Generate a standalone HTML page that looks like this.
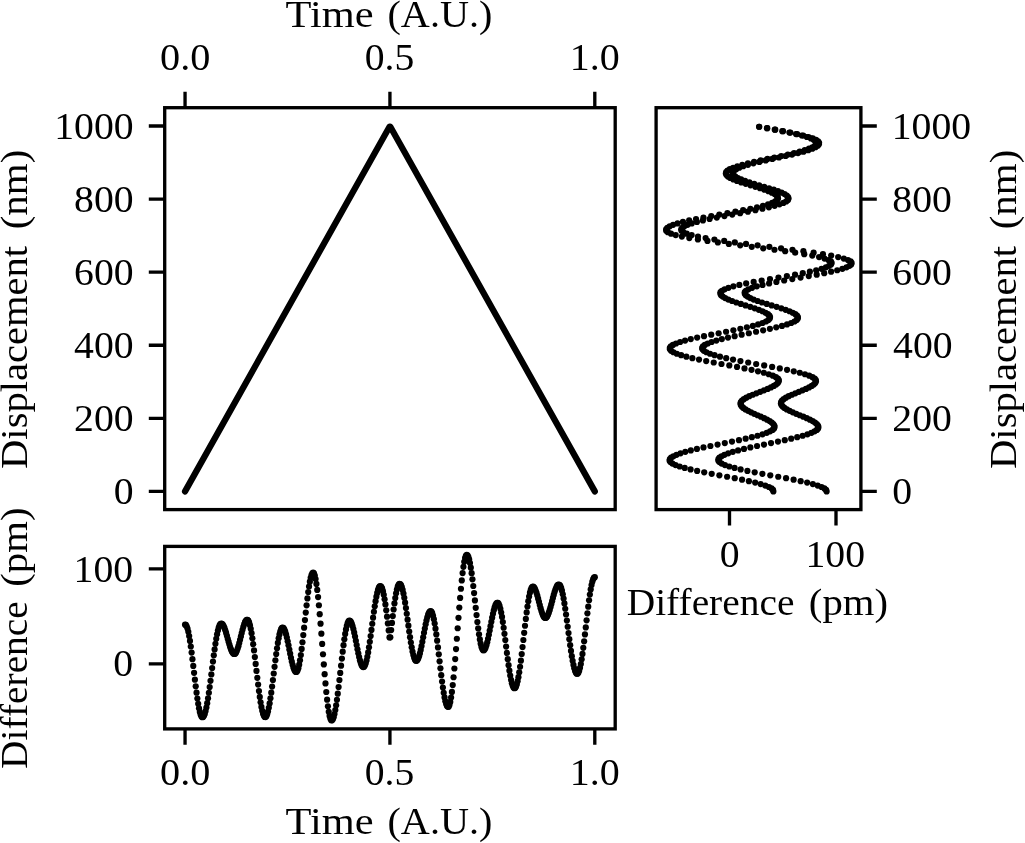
<!DOCTYPE html>
<html><head><meta charset="utf-8"><title>Displacement and difference plots</title>
<style>html,body{margin:0;padding:0;background:#fff}svg{display:block}</style></head>
<body>
<svg width="1025" height="843" viewBox="0 0 1025 843">
<rect width="1025" height="843" fill="#fff"/>
<polyline points="185.05,491.40 389.51,126.73 390.34,126.73 594.80,491.40" fill="none" stroke="#000" stroke-width="6.25" stroke-linejoin="round" stroke-linecap="round"/>
<g fill="#000"><circle cx="185.05" cy="624.67" r="3.1"/><circle cx="185.87" cy="624.96" r="3.1"/><circle cx="186.69" cy="626.28" r="3.1"/><circle cx="187.51" cy="628.60" r="3.1"/><circle cx="188.33" cy="631.86" r="3.1"/><circle cx="189.16" cy="635.99" r="3.1"/><circle cx="189.98" cy="640.90" r="3.1"/><circle cx="190.80" cy="646.48" r="3.1"/><circle cx="191.62" cy="652.60" r="3.1"/><circle cx="192.44" cy="659.13" r="3.1"/><circle cx="193.26" cy="665.92" r="3.1"/><circle cx="194.08" cy="672.83" r="3.1"/><circle cx="194.90" cy="679.69" r="3.1"/><circle cx="195.72" cy="686.35" r="3.1"/><circle cx="196.55" cy="692.68" r="3.1"/><circle cx="197.37" cy="698.52" r="3.1"/><circle cx="198.19" cy="703.75" r="3.1"/><circle cx="199.01" cy="708.25" r="3.1"/><circle cx="199.83" cy="711.92" r="3.1"/><circle cx="200.65" cy="714.68" r="3.1"/><circle cx="201.47" cy="716.46" r="3.1"/><circle cx="202.29" cy="717.22" r="3.1"/><circle cx="203.12" cy="716.99" r="3.1"/><circle cx="203.94" cy="715.86" r="3.1"/><circle cx="204.76" cy="713.88" r="3.1"/><circle cx="205.58" cy="711.07" r="3.1"/><circle cx="206.40" cy="707.49" r="3.1"/><circle cx="207.22" cy="703.21" r="3.1"/><circle cx="208.04" cy="698.30" r="3.1"/><circle cx="208.86" cy="692.87" r="3.1"/><circle cx="209.68" cy="687.00" r="3.1"/><circle cx="210.51" cy="680.82" r="3.1"/><circle cx="211.33" cy="674.45" r="3.1"/><circle cx="212.15" cy="667.99" r="3.1"/><circle cx="212.97" cy="661.59" r="3.1"/><circle cx="213.79" cy="655.35" r="3.1"/><circle cx="214.61" cy="649.40" r="3.1"/><circle cx="215.43" cy="643.84" r="3.1"/><circle cx="216.25" cy="638.80" r="3.1"/><circle cx="217.07" cy="634.36" r="3.1"/><circle cx="217.90" cy="630.60" r="3.1"/><circle cx="218.72" cy="627.60" r="3.1"/><circle cx="219.54" cy="625.41" r="3.1"/><circle cx="220.36" cy="624.07" r="3.1"/><circle cx="221.18" cy="623.61" r="3.1"/><circle cx="222.00" cy="623.86" r="3.1"/><circle cx="222.82" cy="624.70" r="3.1"/><circle cx="223.64" cy="626.09" r="3.1"/><circle cx="224.46" cy="627.97" r="3.1"/><circle cx="225.29" cy="630.28" r="3.1"/><circle cx="226.11" cy="632.91" r="3.1"/><circle cx="226.93" cy="635.76" r="3.1"/><circle cx="227.75" cy="638.74" r="3.1"/><circle cx="228.57" cy="641.72" r="3.1"/><circle cx="229.39" cy="644.59" r="3.1"/><circle cx="230.21" cy="647.23" r="3.1"/><circle cx="231.03" cy="649.54" r="3.1"/><circle cx="231.86" cy="651.45" r="3.1"/><circle cx="232.68" cy="652.86" r="3.1"/><circle cx="233.50" cy="653.72" r="3.1"/><circle cx="234.32" cy="654.00" r="3.1"/><circle cx="235.14" cy="653.65" r="3.1"/><circle cx="235.96" cy="652.64" r="3.1"/><circle cx="236.78" cy="651.01" r="3.1"/><circle cx="237.60" cy="648.82" r="3.1"/><circle cx="238.42" cy="646.14" r="3.1"/><circle cx="239.25" cy="643.10" r="3.1"/><circle cx="240.07" cy="639.81" r="3.1"/><circle cx="240.89" cy="636.40" r="3.1"/><circle cx="241.71" cy="633.01" r="3.1"/><circle cx="242.53" cy="629.78" r="3.1"/><circle cx="243.35" cy="626.82" r="3.1"/><circle cx="244.17" cy="624.27" r="3.1"/><circle cx="244.99" cy="622.22" r="3.1"/><circle cx="245.81" cy="620.75" r="3.1"/><circle cx="246.64" cy="619.92" r="3.1"/><circle cx="247.46" cy="619.79" r="3.1"/><circle cx="248.28" cy="620.60" r="3.1"/><circle cx="249.10" cy="622.39" r="3.1"/><circle cx="249.92" cy="625.13" r="3.1"/><circle cx="250.74" cy="628.76" r="3.1"/><circle cx="251.56" cy="633.21" r="3.1"/><circle cx="252.38" cy="638.37" r="3.1"/><circle cx="253.20" cy="644.16" r="3.1"/><circle cx="254.03" cy="650.44" r="3.1"/><circle cx="254.85" cy="657.09" r="3.1"/><circle cx="255.67" cy="663.97" r="3.1"/><circle cx="256.49" cy="670.95" r="3.1"/><circle cx="257.31" cy="677.87" r="3.1"/><circle cx="258.13" cy="684.59" r="3.1"/><circle cx="258.95" cy="690.99" r="3.1"/><circle cx="259.77" cy="696.93" r="3.1"/><circle cx="260.60" cy="702.28" r="3.1"/><circle cx="261.42" cy="706.93" r="3.1"/><circle cx="262.24" cy="710.80" r="3.1"/><circle cx="263.06" cy="713.79" r="3.1"/><circle cx="263.88" cy="715.85" r="3.1"/><circle cx="264.70" cy="716.94" r="3.1"/><circle cx="265.52" cy="717.03" r="3.1"/><circle cx="266.34" cy="716.13" r="3.1"/><circle cx="267.16" cy="714.27" r="3.1"/><circle cx="267.99" cy="711.49" r="3.1"/><circle cx="268.81" cy="707.86" r="3.1"/><circle cx="269.63" cy="703.44" r="3.1"/><circle cx="270.45" cy="698.33" r="3.1"/><circle cx="271.27" cy="692.66" r="3.1"/><circle cx="272.09" cy="686.54" r="3.1"/><circle cx="272.91" cy="680.10" r="3.1"/><circle cx="273.73" cy="673.50" r="3.1"/><circle cx="274.55" cy="666.86" r="3.1"/><circle cx="275.38" cy="660.35" r="3.1"/><circle cx="276.20" cy="654.11" r="3.1"/><circle cx="277.02" cy="648.27" r="3.1"/><circle cx="277.84" cy="642.95" r="3.1"/><circle cx="278.66" cy="638.29" r="3.1"/><circle cx="279.48" cy="634.38" r="3.1"/><circle cx="280.30" cy="631.30" r="3.1"/><circle cx="281.12" cy="629.12" r="3.1"/><circle cx="281.94" cy="627.89" r="3.1"/><circle cx="282.77" cy="627.63" r="3.1"/><circle cx="283.59" cy="628.20" r="3.1"/><circle cx="284.41" cy="629.55" r="3.1"/><circle cx="285.23" cy="631.62" r="3.1"/><circle cx="286.05" cy="634.35" r="3.1"/><circle cx="286.87" cy="637.62" r="3.1"/><circle cx="287.69" cy="641.33" r="3.1"/><circle cx="288.51" cy="645.34" r="3.1"/><circle cx="289.34" cy="649.51" r="3.1"/><circle cx="290.16" cy="653.69" r="3.1"/><circle cx="290.98" cy="657.73" r="3.1"/><circle cx="291.80" cy="661.49" r="3.1"/><circle cx="292.62" cy="664.83" r="3.1"/><circle cx="293.44" cy="667.64" r="3.1"/><circle cx="294.26" cy="669.81" r="3.1"/><circle cx="295.08" cy="671.26" r="3.1"/><circle cx="295.90" cy="671.95" r="3.1"/><circle cx="296.73" cy="671.79" r="3.1"/><circle cx="297.55" cy="670.53" r="3.1"/><circle cx="298.37" cy="668.15" r="3.1"/><circle cx="299.19" cy="664.71" r="3.1"/><circle cx="300.01" cy="660.29" r="3.1"/><circle cx="300.83" cy="654.99" r="3.1"/><circle cx="301.65" cy="648.93" r="3.1"/><circle cx="302.47" cy="642.26" r="3.1"/><circle cx="303.29" cy="635.12" r="3.1"/><circle cx="304.12" cy="627.68" r="3.1"/><circle cx="304.94" cy="620.12" r="3.1"/><circle cx="305.76" cy="612.61" r="3.1"/><circle cx="306.58" cy="605.33" r="3.1"/><circle cx="307.40" cy="598.44" r="3.1"/><circle cx="308.22" cy="592.11" r="3.1"/><circle cx="309.04" cy="586.48" r="3.1"/><circle cx="309.86" cy="581.68" r="3.1"/><circle cx="310.68" cy="577.82" r="3.1"/><circle cx="311.51" cy="574.99" r="3.1"/><circle cx="312.33" cy="573.26" r="3.1"/><circle cx="313.15" cy="572.67" r="3.1"/><circle cx="313.97" cy="573.38" r="3.1"/><circle cx="314.79" cy="575.53" r="3.1"/><circle cx="315.61" cy="579.05" r="3.1"/><circle cx="316.43" cy="583.89" r="3.1"/><circle cx="317.25" cy="589.95" r="3.1"/><circle cx="318.08" cy="597.11" r="3.1"/><circle cx="318.90" cy="605.23" r="3.1"/><circle cx="319.72" cy="614.15" r="3.1"/><circle cx="320.54" cy="623.71" r="3.1"/><circle cx="321.36" cy="633.70" r="3.1"/><circle cx="322.18" cy="643.95" r="3.1"/><circle cx="323.00" cy="654.24" r="3.1"/><circle cx="323.82" cy="664.39" r="3.1"/><circle cx="324.64" cy="674.19" r="3.1"/><circle cx="325.47" cy="683.45" r="3.1"/><circle cx="326.29" cy="692.00" r="3.1"/><circle cx="327.11" cy="699.66" r="3.1"/><circle cx="327.93" cy="706.29" r="3.1"/><circle cx="328.75" cy="711.76" r="3.1"/><circle cx="329.57" cy="715.96" r="3.1"/><circle cx="330.39" cy="718.81" r="3.1"/><circle cx="331.21" cy="720.25" r="3.1"/><circle cx="332.03" cy="720.29" r="3.1"/><circle cx="332.86" cy="719.23" r="3.1"/><circle cx="333.68" cy="717.15" r="3.1"/><circle cx="334.50" cy="714.09" r="3.1"/><circle cx="335.32" cy="710.12" r="3.1"/><circle cx="336.14" cy="705.33" r="3.1"/><circle cx="336.96" cy="699.80" r="3.1"/><circle cx="337.78" cy="693.66" r="3.1"/><circle cx="338.60" cy="687.03" r="3.1"/><circle cx="339.42" cy="680.06" r="3.1"/><circle cx="340.25" cy="672.89" r="3.1"/><circle cx="341.07" cy="665.66" r="3.1"/><circle cx="341.89" cy="658.54" r="3.1"/><circle cx="342.71" cy="651.66" r="3.1"/><circle cx="343.53" cy="645.18" r="3.1"/><circle cx="344.35" cy="639.23" r="3.1"/><circle cx="345.17" cy="633.94" r="3.1"/><circle cx="345.99" cy="629.41" r="3.1"/><circle cx="346.82" cy="625.74" r="3.1"/><circle cx="347.64" cy="623.00" r="3.1"/><circle cx="348.46" cy="621.26" r="3.1"/><circle cx="349.28" cy="620.54" r="3.1"/><circle cx="350.10" cy="620.77" r="3.1"/><circle cx="350.92" cy="621.78" r="3.1"/><circle cx="351.74" cy="623.55" r="3.1"/><circle cx="352.56" cy="626.00" r="3.1"/><circle cx="353.38" cy="629.07" r="3.1"/><circle cx="354.21" cy="632.63" r="3.1"/><circle cx="355.03" cy="636.57" r="3.1"/><circle cx="355.85" cy="640.76" r="3.1"/><circle cx="356.67" cy="645.05" r="3.1"/><circle cx="357.49" cy="649.30" r="3.1"/><circle cx="358.31" cy="653.36" r="3.1"/><circle cx="359.13" cy="657.09" r="3.1"/><circle cx="359.95" cy="660.38" r="3.1"/><circle cx="360.77" cy="663.10" r="3.1"/><circle cx="361.60" cy="665.16" r="3.1"/><circle cx="362.42" cy="666.49" r="3.1"/><circle cx="363.24" cy="667.04" r="3.1"/><circle cx="364.06" cy="666.77" r="3.1"/><circle cx="364.88" cy="665.58" r="3.1"/><circle cx="365.70" cy="663.49" r="3.1"/><circle cx="366.52" cy="660.54" r="3.1"/><circle cx="367.34" cy="656.81" r="3.1"/><circle cx="368.16" cy="652.38" r="3.1"/><circle cx="368.99" cy="647.36" r="3.1"/><circle cx="369.81" cy="641.85" r="3.1"/><circle cx="370.63" cy="635.99" r="3.1"/><circle cx="371.45" cy="629.91" r="3.1"/><circle cx="372.27" cy="623.75" r="3.1"/><circle cx="373.09" cy="617.66" r="3.1"/><circle cx="373.91" cy="611.77" r="3.1"/><circle cx="374.73" cy="606.23" r="3.1"/><circle cx="375.56" cy="601.16" r="3.1"/><circle cx="376.38" cy="596.67" r="3.1"/><circle cx="377.20" cy="592.88" r="3.1"/><circle cx="378.02" cy="589.86" r="3.1"/><circle cx="378.84" cy="587.69" r="3.1"/><circle cx="379.66" cy="586.42" r="3.1"/><circle cx="380.48" cy="586.07" r="3.1"/><circle cx="381.30" cy="586.74" r="3.1"/><circle cx="382.12" cy="588.44" r="3.1"/><circle cx="382.95" cy="591.14" r="3.1"/><circle cx="383.77" cy="594.76" r="3.1"/><circle cx="384.59" cy="599.24" r="3.1"/><circle cx="385.41" cy="604.47" r="3.1"/><circle cx="386.23" cy="610.34" r="3.1"/><circle cx="387.05" cy="616.71" r="3.1"/><circle cx="387.87" cy="623.44" r="3.1"/><circle cx="388.69" cy="630.39" r="3.1"/><circle cx="389.51" cy="637.39" r="3.1"/><circle cx="390.34" cy="637.30" r="3.1"/><circle cx="391.16" cy="630.10" r="3.1"/><circle cx="391.98" cy="622.97" r="3.1"/><circle cx="392.80" cy="616.04" r="3.1"/><circle cx="393.62" cy="609.48" r="3.1"/><circle cx="394.44" cy="603.43" r="3.1"/><circle cx="395.26" cy="598.01" r="3.1"/><circle cx="396.08" cy="593.34" r="3.1"/><circle cx="396.90" cy="589.52" r="3.1"/><circle cx="397.73" cy="586.63" r="3.1"/><circle cx="398.55" cy="584.74" r="3.1"/><circle cx="399.37" cy="583.88" r="3.1"/><circle cx="400.19" cy="584.04" r="3.1"/><circle cx="401.01" cy="585.12" r="3.1"/><circle cx="401.83" cy="587.10" r="3.1"/><circle cx="402.65" cy="589.93" r="3.1"/><circle cx="403.47" cy="593.53" r="3.1"/><circle cx="404.29" cy="597.82" r="3.1"/><circle cx="405.12" cy="602.71" r="3.1"/><circle cx="405.94" cy="608.06" r="3.1"/><circle cx="406.76" cy="613.76" r="3.1"/><circle cx="407.58" cy="619.66" r="3.1"/><circle cx="408.40" cy="625.63" r="3.1"/><circle cx="409.22" cy="631.52" r="3.1"/><circle cx="410.04" cy="637.19" r="3.1"/><circle cx="410.86" cy="642.50" r="3.1"/><circle cx="411.69" cy="647.34" r="3.1"/><circle cx="412.51" cy="651.58" r="3.1"/><circle cx="413.33" cy="655.12" r="3.1"/><circle cx="414.15" cy="657.87" r="3.1"/><circle cx="414.97" cy="659.77" r="3.1"/><circle cx="415.79" cy="660.77" r="3.1"/><circle cx="416.61" cy="660.86" r="3.1"/><circle cx="417.43" cy="660.11" r="3.1"/><circle cx="418.25" cy="658.59" r="3.1"/><circle cx="419.08" cy="656.34" r="3.1"/><circle cx="419.90" cy="653.43" r="3.1"/><circle cx="420.72" cy="649.96" r="3.1"/><circle cx="421.54" cy="646.03" r="3.1"/><circle cx="422.36" cy="641.78" r="3.1"/><circle cx="423.18" cy="637.34" r="3.1"/><circle cx="424.00" cy="632.86" r="3.1"/><circle cx="424.82" cy="628.48" r="3.1"/><circle cx="425.64" cy="624.35" r="3.1"/><circle cx="426.47" cy="620.60" r="3.1"/><circle cx="427.29" cy="617.34" r="3.1"/><circle cx="428.11" cy="614.70" r="3.1"/><circle cx="428.93" cy="612.74" r="3.1"/><circle cx="429.75" cy="611.53" r="3.1"/><circle cx="430.57" cy="611.12" r="3.1"/><circle cx="431.39" cy="611.65" r="3.1"/><circle cx="432.21" cy="613.20" r="3.1"/><circle cx="433.03" cy="615.74" r="3.1"/><circle cx="433.86" cy="619.22" r="3.1"/><circle cx="434.68" cy="623.56" r="3.1"/><circle cx="435.50" cy="628.67" r="3.1"/><circle cx="436.32" cy="634.43" r="3.1"/><circle cx="437.14" cy="640.72" r="3.1"/><circle cx="437.96" cy="647.40" r="3.1"/><circle cx="438.78" cy="654.33" r="3.1"/><circle cx="439.60" cy="661.37" r="3.1"/><circle cx="440.43" cy="668.35" r="3.1"/><circle cx="441.25" cy="675.14" r="3.1"/><circle cx="442.07" cy="681.57" r="3.1"/><circle cx="442.89" cy="687.52" r="3.1"/><circle cx="443.71" cy="692.86" r="3.1"/><circle cx="444.53" cy="697.46" r="3.1"/><circle cx="445.35" cy="701.24" r="3.1"/><circle cx="446.17" cy="704.10" r="3.1"/><circle cx="446.99" cy="705.99" r="3.1"/><circle cx="447.82" cy="706.87" r="3.1"/><circle cx="448.64" cy="706.64" r="3.1"/><circle cx="449.46" cy="705.01" r="3.1"/><circle cx="450.28" cy="701.97" r="3.1"/><circle cx="451.10" cy="697.58" r="3.1"/><circle cx="451.92" cy="691.92" r="3.1"/><circle cx="452.74" cy="685.10" r="3.1"/><circle cx="453.56" cy="677.25" r="3.1"/><circle cx="454.38" cy="668.51" r="3.1"/><circle cx="455.21" cy="659.06" r="3.1"/><circle cx="456.03" cy="649.07" r="3.1"/><circle cx="456.85" cy="638.73" r="3.1"/><circle cx="457.67" cy="628.24" r="3.1"/><circle cx="458.49" cy="617.81" r="3.1"/><circle cx="459.31" cy="607.62" r="3.1"/><circle cx="460.13" cy="597.88" r="3.1"/><circle cx="460.95" cy="588.76" r="3.1"/><circle cx="461.77" cy="580.45" r="3.1"/><circle cx="462.60" cy="573.10" r="3.1"/><circle cx="463.42" cy="566.85" r="3.1"/><circle cx="464.24" cy="561.82" r="3.1"/><circle cx="465.06" cy="558.11" r="3.1"/><circle cx="465.88" cy="555.77" r="3.1"/><circle cx="466.70" cy="554.87" r="3.1"/><circle cx="467.52" cy="555.27" r="3.1"/><circle cx="468.34" cy="556.81" r="3.1"/><circle cx="469.17" cy="559.45" r="3.1"/><circle cx="469.99" cy="563.12" r="3.1"/><circle cx="470.81" cy="567.72" r="3.1"/><circle cx="471.63" cy="573.17" r="3.1"/><circle cx="472.45" cy="579.31" r="3.1"/><circle cx="473.27" cy="586.01" r="3.1"/><circle cx="474.09" cy="593.10" r="3.1"/><circle cx="474.91" cy="600.42" r="3.1"/><circle cx="475.73" cy="607.79" r="3.1"/><circle cx="476.56" cy="615.03" r="3.1"/><circle cx="477.38" cy="621.98" r="3.1"/><circle cx="478.20" cy="628.47" r="3.1"/><circle cx="479.02" cy="634.34" r="3.1"/><circle cx="479.84" cy="639.45" r="3.1"/><circle cx="480.66" cy="643.67" r="3.1"/><circle cx="481.48" cy="646.92" r="3.1"/><circle cx="482.30" cy="649.11" r="3.1"/><circle cx="483.12" cy="650.18" r="3.1"/><circle cx="483.95" cy="650.15" r="3.1"/><circle cx="484.77" cy="649.27" r="3.1"/><circle cx="485.59" cy="647.63" r="3.1"/><circle cx="486.41" cy="645.27" r="3.1"/><circle cx="487.23" cy="642.27" r="3.1"/><circle cx="488.05" cy="638.74" r="3.1"/><circle cx="488.87" cy="634.79" r="3.1"/><circle cx="489.69" cy="630.56" r="3.1"/><circle cx="490.51" cy="626.19" r="3.1"/><circle cx="491.34" cy="621.83" r="3.1"/><circle cx="492.16" cy="617.63" r="3.1"/><circle cx="492.98" cy="613.73" r="3.1"/><circle cx="493.80" cy="610.26" r="3.1"/><circle cx="494.62" cy="607.35" r="3.1"/><circle cx="495.44" cy="605.09" r="3.1"/><circle cx="496.26" cy="603.55" r="3.1"/><circle cx="497.08" cy="602.78" r="3.1"/><circle cx="497.91" cy="602.86" r="3.1"/><circle cx="498.73" cy="603.90" r="3.1"/><circle cx="499.55" cy="605.88" r="3.1"/><circle cx="500.37" cy="608.77" r="3.1"/><circle cx="501.19" cy="612.49" r="3.1"/><circle cx="502.01" cy="616.97" r="3.1"/><circle cx="502.83" cy="622.09" r="3.1"/><circle cx="503.65" cy="627.74" r="3.1"/><circle cx="504.47" cy="633.80" r="3.1"/><circle cx="505.30" cy="640.12" r="3.1"/><circle cx="506.12" cy="646.56" r="3.1"/><circle cx="506.94" cy="652.97" r="3.1"/><circle cx="507.76" cy="659.22" r="3.1"/><circle cx="508.58" cy="665.15" r="3.1"/><circle cx="509.40" cy="670.63" r="3.1"/><circle cx="510.22" cy="675.55" r="3.1"/><circle cx="511.04" cy="679.78" r="3.1"/><circle cx="511.86" cy="683.22" r="3.1"/><circle cx="512.69" cy="685.81" r="3.1"/><circle cx="513.51" cy="687.48" r="3.1"/><circle cx="514.33" cy="688.18" r="3.1"/><circle cx="515.15" cy="687.91" r="3.1"/><circle cx="515.97" cy="686.63" r="3.1"/><circle cx="516.79" cy="684.38" r="3.1"/><circle cx="517.61" cy="681.19" r="3.1"/><circle cx="518.43" cy="677.14" r="3.1"/><circle cx="519.25" cy="672.29" r="3.1"/><circle cx="520.08" cy="666.75" r="3.1"/><circle cx="520.90" cy="660.63" r="3.1"/><circle cx="521.72" cy="654.04" r="3.1"/><circle cx="522.54" cy="647.12" r="3.1"/><circle cx="523.36" cy="640.01" r="3.1"/><circle cx="524.18" cy="632.84" r="3.1"/><circle cx="525.00" cy="625.77" r="3.1"/><circle cx="525.82" cy="618.93" r="3.1"/><circle cx="526.65" cy="612.46" r="3.1"/><circle cx="527.47" cy="606.49" r="3.1"/><circle cx="528.29" cy="601.13" r="3.1"/><circle cx="529.11" cy="596.49" r="3.1"/><circle cx="529.93" cy="592.67" r="3.1"/><circle cx="530.75" cy="589.74" r="3.1"/><circle cx="531.57" cy="587.76" r="3.1"/><circle cx="532.39" cy="586.76" r="3.1"/><circle cx="533.21" cy="586.70" r="3.1"/><circle cx="534.04" cy="587.34" r="3.1"/><circle cx="534.86" cy="588.62" r="3.1"/><circle cx="535.68" cy="590.48" r="3.1"/><circle cx="536.50" cy="592.84" r="3.1"/><circle cx="537.32" cy="595.60" r="3.1"/><circle cx="538.14" cy="598.65" r="3.1"/><circle cx="538.96" cy="601.85" r="3.1"/><circle cx="539.78" cy="605.07" r="3.1"/><circle cx="540.60" cy="608.17" r="3.1"/><circle cx="541.43" cy="611.02" r="3.1"/><circle cx="542.25" cy="613.50" r="3.1"/><circle cx="543.07" cy="615.51" r="3.1"/><circle cx="543.89" cy="616.95" r="3.1"/><circle cx="544.71" cy="617.77" r="3.1"/><circle cx="545.53" cy="617.92" r="3.1"/><circle cx="546.35" cy="617.45" r="3.1"/><circle cx="547.17" cy="616.40" r="3.1"/><circle cx="547.99" cy="614.80" r="3.1"/><circle cx="548.82" cy="612.71" r="3.1"/><circle cx="549.64" cy="610.20" r="3.1"/><circle cx="550.46" cy="607.37" r="3.1"/><circle cx="551.28" cy="604.31" r="3.1"/><circle cx="552.10" cy="601.14" r="3.1"/><circle cx="552.92" cy="597.97" r="3.1"/><circle cx="553.74" cy="594.93" r="3.1"/><circle cx="554.56" cy="592.10" r="3.1"/><circle cx="555.39" cy="589.61" r="3.1"/><circle cx="556.21" cy="587.54" r="3.1"/><circle cx="557.03" cy="585.96" r="3.1"/><circle cx="557.85" cy="584.93" r="3.1"/><circle cx="558.67" cy="584.49" r="3.1"/><circle cx="559.49" cy="584.76" r="3.1"/><circle cx="560.31" cy="585.90" r="3.1"/><circle cx="561.13" cy="587.90" r="3.1"/><circle cx="561.95" cy="590.71" r="3.1"/><circle cx="562.78" cy="594.28" r="3.1"/><circle cx="563.60" cy="598.53" r="3.1"/><circle cx="564.42" cy="603.39" r="3.1"/><circle cx="565.24" cy="608.75" r="3.1"/><circle cx="566.06" cy="614.51" r="3.1"/><circle cx="566.88" cy="620.56" r="3.1"/><circle cx="567.70" cy="626.77" r="3.1"/><circle cx="568.52" cy="633.04" r="3.1"/><circle cx="569.34" cy="639.22" r="3.1"/><circle cx="570.17" cy="645.21" r="3.1"/><circle cx="570.99" cy="650.89" r="3.1"/><circle cx="571.81" cy="656.13" r="3.1"/><circle cx="572.63" cy="660.85" r="3.1"/><circle cx="573.45" cy="664.94" r="3.1"/><circle cx="574.27" cy="668.33" r="3.1"/><circle cx="575.09" cy="670.95" r="3.1"/><circle cx="575.91" cy="672.74" r="3.1"/><circle cx="576.73" cy="673.68" r="3.1"/><circle cx="577.56" cy="673.72" r="3.1"/><circle cx="578.38" cy="672.77" r="3.1"/><circle cx="579.20" cy="670.79" r="3.1"/><circle cx="580.02" cy="667.85" r="3.1"/><circle cx="580.84" cy="663.99" r="3.1"/><circle cx="581.66" cy="659.30" r="3.1"/><circle cx="582.48" cy="653.88" r="3.1"/><circle cx="583.30" cy="647.84" r="3.1"/><circle cx="584.13" cy="641.33" r="3.1"/><circle cx="584.95" cy="634.47" r="3.1"/><circle cx="585.77" cy="627.42" r="3.1"/><circle cx="586.59" cy="620.33" r="3.1"/><circle cx="587.41" cy="613.34" r="3.1"/><circle cx="588.23" cy="606.63" r="3.1"/><circle cx="589.05" cy="600.31" r="3.1"/><circle cx="589.87" cy="594.55" r="3.1"/><circle cx="590.69" cy="589.45" r="3.1"/><circle cx="591.52" cy="585.12" r="3.1"/><circle cx="592.34" cy="581.67" r="3.1"/><circle cx="593.16" cy="579.16" r="3.1"/><circle cx="593.98" cy="577.65" r="3.1"/><circle cx="594.80" cy="577.17" r="3.1"/></g>
<g fill="#000"><circle cx="773.37" cy="491.40" r="3.1"/><circle cx="773.04" cy="489.94" r="3.1"/><circle cx="771.56" cy="488.47" r="3.1"/><circle cx="768.96" cy="487.01" r="3.1"/><circle cx="765.30" cy="485.54" r="3.1"/><circle cx="760.67" cy="484.08" r="3.1"/><circle cx="755.17" cy="482.61" r="3.1"/><circle cx="748.91" cy="481.15" r="3.1"/><circle cx="742.05" cy="479.68" r="3.1"/><circle cx="734.73" cy="478.22" r="3.1"/><circle cx="727.12" cy="476.75" r="3.1"/><circle cx="719.38" cy="475.29" r="3.1"/><circle cx="711.69" cy="473.83" r="3.1"/><circle cx="704.22" cy="472.36" r="3.1"/><circle cx="697.13" cy="470.90" r="3.1"/><circle cx="690.58" cy="469.43" r="3.1"/><circle cx="684.71" cy="467.97" r="3.1"/><circle cx="679.67" cy="466.50" r="3.1"/><circle cx="675.56" cy="465.04" r="3.1"/><circle cx="672.47" cy="463.57" r="3.1"/><circle cx="670.47" cy="462.11" r="3.1"/><circle cx="669.61" cy="460.64" r="3.1"/><circle cx="669.87" cy="459.18" r="3.1"/><circle cx="671.13" cy="457.72" r="3.1"/><circle cx="673.36" cy="456.25" r="3.1"/><circle cx="676.51" cy="454.79" r="3.1"/><circle cx="680.52" cy="453.32" r="3.1"/><circle cx="685.32" cy="451.86" r="3.1"/><circle cx="690.82" cy="450.39" r="3.1"/><circle cx="696.92" cy="448.93" r="3.1"/><circle cx="703.49" cy="447.46" r="3.1"/><circle cx="710.42" cy="446.00" r="3.1"/><circle cx="717.57" cy="444.54" r="3.1"/><circle cx="724.80" cy="443.07" r="3.1"/><circle cx="731.98" cy="441.61" r="3.1"/><circle cx="738.98" cy="440.14" r="3.1"/><circle cx="745.65" cy="438.68" r="3.1"/><circle cx="751.87" cy="437.21" r="3.1"/><circle cx="757.53" cy="435.75" r="3.1"/><circle cx="762.51" cy="434.28" r="3.1"/><circle cx="766.72" cy="432.82" r="3.1"/><circle cx="770.09" cy="431.35" r="3.1"/><circle cx="772.54" cy="429.89" r="3.1"/><circle cx="774.04" cy="428.43" r="3.1"/><circle cx="774.56" cy="426.96" r="3.1"/><circle cx="774.27" cy="425.50" r="3.1"/><circle cx="773.33" cy="424.03" r="3.1"/><circle cx="771.77" cy="422.57" r="3.1"/><circle cx="769.66" cy="421.10" r="3.1"/><circle cx="767.08" cy="419.64" r="3.1"/><circle cx="764.13" cy="418.17" r="3.1"/><circle cx="760.93" cy="416.71" r="3.1"/><circle cx="757.59" cy="415.24" r="3.1"/><circle cx="754.25" cy="413.78" r="3.1"/><circle cx="751.04" cy="412.32" r="3.1"/><circle cx="748.08" cy="410.85" r="3.1"/><circle cx="745.48" cy="409.39" r="3.1"/><circle cx="743.35" cy="407.92" r="3.1"/><circle cx="741.77" cy="406.46" r="3.1"/><circle cx="740.80" cy="404.99" r="3.1"/><circle cx="740.49" cy="403.53" r="3.1"/><circle cx="740.88" cy="402.06" r="3.1"/><circle cx="742.01" cy="400.60" r="3.1"/><circle cx="743.84" cy="399.13" r="3.1"/><circle cx="746.30" cy="397.67" r="3.1"/><circle cx="749.29" cy="396.21" r="3.1"/><circle cx="752.70" cy="394.74" r="3.1"/><circle cx="756.39" cy="393.28" r="3.1"/><circle cx="760.21" cy="391.81" r="3.1"/><circle cx="764.01" cy="390.35" r="3.1"/><circle cx="767.64" cy="388.88" r="3.1"/><circle cx="770.95" cy="387.42" r="3.1"/><circle cx="773.81" cy="385.95" r="3.1"/><circle cx="776.11" cy="384.49" r="3.1"/><circle cx="777.76" cy="383.02" r="3.1"/><circle cx="778.69" cy="381.56" r="3.1"/><circle cx="778.84" cy="380.10" r="3.1"/><circle cx="777.93" cy="378.63" r="3.1"/><circle cx="775.92" cy="377.17" r="3.1"/><circle cx="772.85" cy="375.70" r="3.1"/><circle cx="768.78" cy="374.24" r="3.1"/><circle cx="763.80" cy="372.77" r="3.1"/><circle cx="758.00" cy="371.31" r="3.1"/><circle cx="751.52" cy="369.84" r="3.1"/><circle cx="744.48" cy="368.38" r="3.1"/><circle cx="737.02" cy="366.92" r="3.1"/><circle cx="729.31" cy="365.45" r="3.1"/><circle cx="721.49" cy="363.99" r="3.1"/><circle cx="713.73" cy="362.52" r="3.1"/><circle cx="706.19" cy="361.06" r="3.1"/><circle cx="699.02" cy="359.59" r="3.1"/><circle cx="692.36" cy="358.13" r="3.1"/><circle cx="686.37" cy="356.66" r="3.1"/><circle cx="681.15" cy="355.20" r="3.1"/><circle cx="676.81" cy="353.73" r="3.1"/><circle cx="673.46" cy="352.27" r="3.1"/><circle cx="671.14" cy="350.81" r="3.1"/><circle cx="669.93" cy="349.34" r="3.1"/><circle cx="669.83" cy="347.88" r="3.1"/><circle cx="670.84" cy="346.41" r="3.1"/><circle cx="672.92" cy="344.95" r="3.1"/><circle cx="676.03" cy="343.48" r="3.1"/><circle cx="680.11" cy="342.02" r="3.1"/><circle cx="685.06" cy="340.55" r="3.1"/><circle cx="690.78" cy="339.09" r="3.1"/><circle cx="697.15" cy="337.62" r="3.1"/><circle cx="704.01" cy="336.16" r="3.1"/><circle cx="711.23" cy="334.70" r="3.1"/><circle cx="718.63" cy="333.23" r="3.1"/><circle cx="726.07" cy="331.77" r="3.1"/><circle cx="733.36" cy="330.30" r="3.1"/><circle cx="740.36" cy="328.84" r="3.1"/><circle cx="746.91" cy="327.37" r="3.1"/><circle cx="752.87" cy="325.91" r="3.1"/><circle cx="758.10" cy="324.44" r="3.1"/><circle cx="762.49" cy="322.98" r="3.1"/><circle cx="765.94" cy="321.51" r="3.1"/><circle cx="768.38" cy="320.05" r="3.1"/><circle cx="769.75" cy="318.59" r="3.1"/><circle cx="770.05" cy="317.12" r="3.1"/><circle cx="769.41" cy="315.66" r="3.1"/><circle cx="767.90" cy="314.19" r="3.1"/><circle cx="765.57" cy="312.73" r="3.1"/><circle cx="762.52" cy="311.26" r="3.1"/><circle cx="758.85" cy="309.80" r="3.1"/><circle cx="754.69" cy="308.33" r="3.1"/><circle cx="750.20" cy="306.87" r="3.1"/><circle cx="745.52" cy="305.40" r="3.1"/><circle cx="740.84" cy="303.94" r="3.1"/><circle cx="736.30" cy="302.48" r="3.1"/><circle cx="732.09" cy="301.01" r="3.1"/><circle cx="728.34" cy="299.55" r="3.1"/><circle cx="725.20" cy="298.08" r="3.1"/><circle cx="722.76" cy="296.62" r="3.1"/><circle cx="721.13" cy="295.15" r="3.1"/><circle cx="720.37" cy="293.69" r="3.1"/><circle cx="720.54" cy="292.22" r="3.1"/><circle cx="721.96" cy="290.76" r="3.1"/><circle cx="724.62" cy="289.29" r="3.1"/><circle cx="728.48" cy="287.83" r="3.1"/><circle cx="733.43" cy="286.37" r="3.1"/><circle cx="739.37" cy="284.90" r="3.1"/><circle cx="746.17" cy="283.44" r="3.1"/><circle cx="753.65" cy="281.97" r="3.1"/><circle cx="761.65" cy="280.51" r="3.1"/><circle cx="769.99" cy="279.04" r="3.1"/><circle cx="778.46" cy="277.58" r="3.1"/><circle cx="786.88" cy="276.11" r="3.1"/><circle cx="795.05" cy="274.65" r="3.1"/><circle cx="802.77" cy="273.19" r="3.1"/><circle cx="809.87" cy="271.72" r="3.1"/><circle cx="816.18" cy="270.26" r="3.1"/><circle cx="821.56" cy="268.79" r="3.1"/><circle cx="825.89" cy="267.33" r="3.1"/><circle cx="829.06" cy="265.86" r="3.1"/><circle cx="831.00" cy="264.40" r="3.1"/><circle cx="831.66" cy="262.93" r="3.1"/><circle cx="830.86" cy="261.47" r="3.1"/><circle cx="828.46" cy="260.00" r="3.1"/><circle cx="824.51" cy="258.54" r="3.1"/><circle cx="819.08" cy="257.08" r="3.1"/><circle cx="812.29" cy="255.61" r="3.1"/><circle cx="804.26" cy="254.15" r="3.1"/><circle cx="795.16" cy="252.68" r="3.1"/><circle cx="785.16" cy="251.22" r="3.1"/><circle cx="774.45" cy="249.75" r="3.1"/><circle cx="763.24" cy="248.29" r="3.1"/><circle cx="751.76" cy="246.82" r="3.1"/><circle cx="740.21" cy="245.36" r="3.1"/><circle cx="728.84" cy="243.89" r="3.1"/><circle cx="717.85" cy="242.43" r="3.1"/><circle cx="707.47" cy="240.97" r="3.1"/><circle cx="697.89" cy="239.50" r="3.1"/><circle cx="689.30" cy="238.04" r="3.1"/><circle cx="681.86" cy="236.57" r="3.1"/><circle cx="675.73" cy="235.11" r="3.1"/><circle cx="671.02" cy="233.64" r="3.1"/><circle cx="667.83" cy="232.18" r="3.1"/><circle cx="666.22" cy="230.71" r="3.1"/><circle cx="666.17" cy="229.25" r="3.1"/><circle cx="667.37" cy="227.78" r="3.1"/><circle cx="669.70" cy="226.32" r="3.1"/><circle cx="673.12" cy="224.86" r="3.1"/><circle cx="677.57" cy="223.39" r="3.1"/><circle cx="682.95" cy="221.93" r="3.1"/><circle cx="689.14" cy="220.46" r="3.1"/><circle cx="696.02" cy="219.00" r="3.1"/><circle cx="703.45" cy="217.53" r="3.1"/><circle cx="711.27" cy="216.07" r="3.1"/><circle cx="719.31" cy="214.60" r="3.1"/><circle cx="727.41" cy="213.14" r="3.1"/><circle cx="735.40" cy="211.67" r="3.1"/><circle cx="743.11" cy="210.21" r="3.1"/><circle cx="750.37" cy="208.75" r="3.1"/><circle cx="757.04" cy="207.28" r="3.1"/><circle cx="762.98" cy="205.82" r="3.1"/><circle cx="768.05" cy="204.35" r="3.1"/><circle cx="772.17" cy="202.89" r="3.1"/><circle cx="775.23" cy="201.42" r="3.1"/><circle cx="777.19" cy="199.96" r="3.1"/><circle cx="777.99" cy="198.49" r="3.1"/><circle cx="777.74" cy="197.03" r="3.1"/><circle cx="776.61" cy="195.57" r="3.1"/><circle cx="774.62" cy="194.10" r="3.1"/><circle cx="771.87" cy="192.64" r="3.1"/><circle cx="768.44" cy="191.17" r="3.1"/><circle cx="764.44" cy="189.71" r="3.1"/><circle cx="760.02" cy="188.24" r="3.1"/><circle cx="755.33" cy="186.78" r="3.1"/><circle cx="750.52" cy="185.31" r="3.1"/><circle cx="745.76" cy="183.85" r="3.1"/><circle cx="741.20" cy="182.38" r="3.1"/><circle cx="737.02" cy="180.92" r="3.1"/><circle cx="733.34" cy="179.46" r="3.1"/><circle cx="730.29" cy="177.99" r="3.1"/><circle cx="727.98" cy="176.53" r="3.1"/><circle cx="726.49" cy="175.06" r="3.1"/><circle cx="725.86" cy="173.60" r="3.1"/><circle cx="726.17" cy="172.13" r="3.1"/><circle cx="727.51" cy="170.67" r="3.1"/><circle cx="729.85" cy="169.20" r="3.1"/><circle cx="733.15" cy="167.74" r="3.1"/><circle cx="737.33" cy="166.27" r="3.1"/><circle cx="742.30" cy="164.81" r="3.1"/><circle cx="747.93" cy="163.35" r="3.1"/><circle cx="754.11" cy="161.88" r="3.1"/><circle cx="760.68" cy="160.42" r="3.1"/><circle cx="767.49" cy="158.95" r="3.1"/><circle cx="774.40" cy="157.49" r="3.1"/><circle cx="781.23" cy="156.02" r="3.1"/><circle cx="787.83" cy="154.56" r="3.1"/><circle cx="794.04" cy="153.09" r="3.1"/><circle cx="799.73" cy="151.63" r="3.1"/><circle cx="804.76" cy="150.16" r="3.1"/><circle cx="809.01" cy="148.70" r="3.1"/><circle cx="812.39" cy="147.24" r="3.1"/><circle cx="814.82" cy="145.77" r="3.1"/><circle cx="816.25" cy="144.31" r="3.1"/><circle cx="816.64" cy="142.84" r="3.1"/><circle cx="815.89" cy="141.38" r="3.1"/><circle cx="813.98" cy="139.91" r="3.1"/><circle cx="810.96" cy="138.45" r="3.1"/><circle cx="806.89" cy="136.98" r="3.1"/><circle cx="801.87" cy="135.52" r="3.1"/><circle cx="796.01" cy="134.05" r="3.1"/><circle cx="789.43" cy="132.59" r="3.1"/><circle cx="782.29" cy="131.13" r="3.1"/><circle cx="774.74" cy="129.66" r="3.1"/><circle cx="766.96" cy="128.20" r="3.1"/><circle cx="759.10" cy="126.73" r="3.1"/><circle cx="759.21" cy="126.73" r="3.1"/><circle cx="767.28" cy="128.20" r="3.1"/><circle cx="775.28" cy="129.66" r="3.1"/><circle cx="783.04" cy="131.13" r="3.1"/><circle cx="790.39" cy="132.59" r="3.1"/><circle cx="797.18" cy="134.05" r="3.1"/><circle cx="803.26" cy="135.52" r="3.1"/><circle cx="808.49" cy="136.98" r="3.1"/><circle cx="812.77" cy="138.45" r="3.1"/><circle cx="816.01" cy="139.91" r="3.1"/><circle cx="818.13" cy="141.38" r="3.1"/><circle cx="819.09" cy="142.84" r="3.1"/><circle cx="818.92" cy="144.31" r="3.1"/><circle cx="817.70" cy="145.77" r="3.1"/><circle cx="815.48" cy="147.24" r="3.1"/><circle cx="812.32" cy="148.70" r="3.1"/><circle cx="808.28" cy="150.16" r="3.1"/><circle cx="803.46" cy="151.63" r="3.1"/><circle cx="797.99" cy="153.09" r="3.1"/><circle cx="791.99" cy="154.56" r="3.1"/><circle cx="785.60" cy="156.02" r="3.1"/><circle cx="778.99" cy="157.49" r="3.1"/><circle cx="772.30" cy="158.95" r="3.1"/><circle cx="765.69" cy="160.42" r="3.1"/><circle cx="759.34" cy="161.88" r="3.1"/><circle cx="753.37" cy="163.35" r="3.1"/><circle cx="747.95" cy="164.81" r="3.1"/><circle cx="743.20" cy="166.27" r="3.1"/><circle cx="739.24" cy="167.74" r="3.1"/><circle cx="736.15" cy="169.20" r="3.1"/><circle cx="734.02" cy="170.67" r="3.1"/><circle cx="732.89" cy="172.13" r="3.1"/><circle cx="732.80" cy="173.60" r="3.1"/><circle cx="733.63" cy="175.06" r="3.1"/><circle cx="735.34" cy="176.53" r="3.1"/><circle cx="737.87" cy="177.99" r="3.1"/><circle cx="741.13" cy="179.46" r="3.1"/><circle cx="745.02" cy="180.92" r="3.1"/><circle cx="749.42" cy="182.38" r="3.1"/><circle cx="754.19" cy="183.85" r="3.1"/><circle cx="759.16" cy="185.31" r="3.1"/><circle cx="764.19" cy="186.78" r="3.1"/><circle cx="769.09" cy="188.24" r="3.1"/><circle cx="773.73" cy="189.71" r="3.1"/><circle cx="777.93" cy="191.17" r="3.1"/><circle cx="781.58" cy="192.64" r="3.1"/><circle cx="784.55" cy="194.10" r="3.1"/><circle cx="786.74" cy="195.57" r="3.1"/><circle cx="788.09" cy="197.03" r="3.1"/><circle cx="788.56" cy="198.49" r="3.1"/><circle cx="787.97" cy="199.96" r="3.1"/><circle cx="786.23" cy="201.42" r="3.1"/><circle cx="783.37" cy="202.89" r="3.1"/><circle cx="779.47" cy="204.35" r="3.1"/><circle cx="774.61" cy="205.82" r="3.1"/><circle cx="768.88" cy="207.28" r="3.1"/><circle cx="762.43" cy="208.75" r="3.1"/><circle cx="755.38" cy="210.21" r="3.1"/><circle cx="747.89" cy="211.67" r="3.1"/><circle cx="740.11" cy="213.14" r="3.1"/><circle cx="732.23" cy="214.60" r="3.1"/><circle cx="724.40" cy="216.07" r="3.1"/><circle cx="716.79" cy="217.53" r="3.1"/><circle cx="709.58" cy="219.00" r="3.1"/><circle cx="702.91" cy="220.46" r="3.1"/><circle cx="696.93" cy="221.93" r="3.1"/><circle cx="691.76" cy="223.39" r="3.1"/><circle cx="687.53" cy="224.86" r="3.1"/><circle cx="684.32" cy="226.32" r="3.1"/><circle cx="682.20" cy="227.78" r="3.1"/><circle cx="681.22" cy="229.25" r="3.1"/><circle cx="681.48" cy="230.71" r="3.1"/><circle cx="683.31" cy="232.18" r="3.1"/><circle cx="686.71" cy="233.64" r="3.1"/><circle cx="691.63" cy="235.11" r="3.1"/><circle cx="697.98" cy="236.57" r="3.1"/><circle cx="705.62" cy="238.04" r="3.1"/><circle cx="714.43" cy="239.50" r="3.1"/><circle cx="724.22" cy="240.97" r="3.1"/><circle cx="734.82" cy="242.43" r="3.1"/><circle cx="746.02" cy="243.89" r="3.1"/><circle cx="757.61" cy="245.36" r="3.1"/><circle cx="769.36" cy="246.82" r="3.1"/><circle cx="781.06" cy="248.29" r="3.1"/><circle cx="792.48" cy="249.75" r="3.1"/><circle cx="803.40" cy="251.22" r="3.1"/><circle cx="813.62" cy="252.68" r="3.1"/><circle cx="822.94" cy="254.15" r="3.1"/><circle cx="831.18" cy="255.61" r="3.1"/><circle cx="838.18" cy="257.08" r="3.1"/><circle cx="843.82" cy="258.54" r="3.1"/><circle cx="847.99" cy="260.00" r="3.1"/><circle cx="850.60" cy="261.47" r="3.1"/><circle cx="851.62" cy="262.93" r="3.1"/><circle cx="851.16" cy="264.40" r="3.1"/><circle cx="849.44" cy="265.86" r="3.1"/><circle cx="846.48" cy="267.33" r="3.1"/><circle cx="842.37" cy="268.79" r="3.1"/><circle cx="837.21" cy="270.26" r="3.1"/><circle cx="831.11" cy="271.72" r="3.1"/><circle cx="824.22" cy="273.19" r="3.1"/><circle cx="816.71" cy="274.65" r="3.1"/><circle cx="808.76" cy="276.11" r="3.1"/><circle cx="800.55" cy="277.58" r="3.1"/><circle cx="792.29" cy="279.04" r="3.1"/><circle cx="784.17" cy="280.51" r="3.1"/><circle cx="776.38" cy="281.97" r="3.1"/><circle cx="769.11" cy="283.44" r="3.1"/><circle cx="762.53" cy="284.90" r="3.1"/><circle cx="756.80" cy="286.37" r="3.1"/><circle cx="752.06" cy="287.83" r="3.1"/><circle cx="748.42" cy="289.29" r="3.1"/><circle cx="745.97" cy="290.76" r="3.1"/><circle cx="744.77" cy="292.22" r="3.1"/><circle cx="744.80" cy="293.69" r="3.1"/><circle cx="745.78" cy="295.15" r="3.1"/><circle cx="747.63" cy="296.62" r="3.1"/><circle cx="750.27" cy="298.08" r="3.1"/><circle cx="753.63" cy="299.55" r="3.1"/><circle cx="757.60" cy="301.01" r="3.1"/><circle cx="762.02" cy="302.48" r="3.1"/><circle cx="766.77" cy="303.94" r="3.1"/><circle cx="771.67" cy="305.40" r="3.1"/><circle cx="776.55" cy="306.87" r="3.1"/><circle cx="781.26" cy="308.33" r="3.1"/><circle cx="785.63" cy="309.80" r="3.1"/><circle cx="789.52" cy="311.26" r="3.1"/><circle cx="792.78" cy="312.73" r="3.1"/><circle cx="795.32" cy="314.19" r="3.1"/><circle cx="797.05" cy="315.66" r="3.1"/><circle cx="797.90" cy="317.12" r="3.1"/><circle cx="797.82" cy="318.59" r="3.1"/><circle cx="796.66" cy="320.05" r="3.1"/><circle cx="794.43" cy="321.51" r="3.1"/><circle cx="791.19" cy="322.98" r="3.1"/><circle cx="787.02" cy="324.44" r="3.1"/><circle cx="782.00" cy="325.91" r="3.1"/><circle cx="776.26" cy="327.37" r="3.1"/><circle cx="769.92" cy="328.84" r="3.1"/><circle cx="763.14" cy="330.30" r="3.1"/><circle cx="756.05" cy="331.77" r="3.1"/><circle cx="748.83" cy="333.23" r="3.1"/><circle cx="741.64" cy="334.70" r="3.1"/><circle cx="734.64" cy="336.16" r="3.1"/><circle cx="727.99" cy="337.62" r="3.1"/><circle cx="721.84" cy="339.09" r="3.1"/><circle cx="716.33" cy="340.55" r="3.1"/><circle cx="711.59" cy="342.02" r="3.1"/><circle cx="707.73" cy="343.48" r="3.1"/><circle cx="704.83" cy="344.95" r="3.1"/><circle cx="702.96" cy="346.41" r="3.1"/><circle cx="702.17" cy="347.88" r="3.1"/><circle cx="702.48" cy="349.34" r="3.1"/><circle cx="703.91" cy="350.81" r="3.1"/><circle cx="706.43" cy="352.27" r="3.1"/><circle cx="710.00" cy="353.73" r="3.1"/><circle cx="714.55" cy="355.20" r="3.1"/><circle cx="719.98" cy="356.66" r="3.1"/><circle cx="726.19" cy="358.13" r="3.1"/><circle cx="733.06" cy="359.59" r="3.1"/><circle cx="740.44" cy="361.06" r="3.1"/><circle cx="748.20" cy="362.52" r="3.1"/><circle cx="756.17" cy="363.99" r="3.1"/><circle cx="764.20" cy="365.45" r="3.1"/><circle cx="772.13" cy="366.92" r="3.1"/><circle cx="779.80" cy="368.38" r="3.1"/><circle cx="787.05" cy="369.84" r="3.1"/><circle cx="793.75" cy="371.31" r="3.1"/><circle cx="799.76" cy="372.77" r="3.1"/><circle cx="804.96" cy="374.24" r="3.1"/><circle cx="809.24" cy="375.70" r="3.1"/><circle cx="812.53" cy="377.17" r="3.1"/><circle cx="814.75" cy="378.63" r="3.1"/><circle cx="815.87" cy="380.10" r="3.1"/><circle cx="815.93" cy="381.56" r="3.1"/><circle cx="815.22" cy="383.02" r="3.1"/><circle cx="813.78" cy="384.49" r="3.1"/><circle cx="811.70" cy="385.95" r="3.1"/><circle cx="809.05" cy="387.42" r="3.1"/><circle cx="805.95" cy="388.88" r="3.1"/><circle cx="802.54" cy="390.35" r="3.1"/><circle cx="798.95" cy="391.81" r="3.1"/><circle cx="795.34" cy="393.28" r="3.1"/><circle cx="791.87" cy="394.74" r="3.1"/><circle cx="788.67" cy="396.21" r="3.1"/><circle cx="785.89" cy="397.67" r="3.1"/><circle cx="783.64" cy="399.13" r="3.1"/><circle cx="782.02" cy="400.60" r="3.1"/><circle cx="781.11" cy="402.06" r="3.1"/><circle cx="780.93" cy="403.53" r="3.1"/><circle cx="781.46" cy="404.99" r="3.1"/><circle cx="782.64" cy="406.46" r="3.1"/><circle cx="784.44" cy="407.92" r="3.1"/><circle cx="786.78" cy="409.39" r="3.1"/><circle cx="789.59" cy="410.85" r="3.1"/><circle cx="792.77" cy="412.32" r="3.1"/><circle cx="796.19" cy="413.78" r="3.1"/><circle cx="799.74" cy="415.24" r="3.1"/><circle cx="803.29" cy="416.71" r="3.1"/><circle cx="806.71" cy="418.17" r="3.1"/><circle cx="809.88" cy="419.64" r="3.1"/><circle cx="812.67" cy="421.10" r="3.1"/><circle cx="814.99" cy="422.57" r="3.1"/><circle cx="816.76" cy="424.03" r="3.1"/><circle cx="817.92" cy="425.50" r="3.1"/><circle cx="818.42" cy="426.96" r="3.1"/><circle cx="818.11" cy="428.43" r="3.1"/><circle cx="816.83" cy="429.89" r="3.1"/><circle cx="814.59" cy="431.35" r="3.1"/><circle cx="811.43" cy="432.82" r="3.1"/><circle cx="807.44" cy="434.28" r="3.1"/><circle cx="802.67" cy="435.75" r="3.1"/><circle cx="797.22" cy="437.21" r="3.1"/><circle cx="791.21" cy="438.68" r="3.1"/><circle cx="784.76" cy="440.14" r="3.1"/><circle cx="777.98" cy="441.61" r="3.1"/><circle cx="771.01" cy="443.07" r="3.1"/><circle cx="763.99" cy="444.54" r="3.1"/><circle cx="757.05" cy="446.00" r="3.1"/><circle cx="750.34" cy="447.46" r="3.1"/><circle cx="743.98" cy="448.93" r="3.1"/><circle cx="738.09" cy="450.39" r="3.1"/><circle cx="732.81" cy="451.86" r="3.1"/><circle cx="728.22" cy="453.32" r="3.1"/><circle cx="724.42" cy="454.79" r="3.1"/><circle cx="721.48" cy="456.25" r="3.1"/><circle cx="719.47" cy="457.72" r="3.1"/><circle cx="718.43" cy="459.18" r="3.1"/><circle cx="718.38" cy="460.64" r="3.1"/><circle cx="719.45" cy="462.11" r="3.1"/><circle cx="721.66" cy="463.57" r="3.1"/><circle cx="724.96" cy="465.04" r="3.1"/><circle cx="729.29" cy="466.50" r="3.1"/><circle cx="734.55" cy="467.97" r="3.1"/><circle cx="740.63" cy="469.43" r="3.1"/><circle cx="747.39" cy="470.90" r="3.1"/><circle cx="754.69" cy="472.36" r="3.1"/><circle cx="762.38" cy="473.83" r="3.1"/><circle cx="770.28" cy="475.29" r="3.1"/><circle cx="778.24" cy="476.75" r="3.1"/><circle cx="786.06" cy="478.22" r="3.1"/><circle cx="793.60" cy="479.68" r="3.1"/><circle cx="800.67" cy="481.15" r="3.1"/><circle cx="807.14" cy="482.61" r="3.1"/><circle cx="812.85" cy="484.08" r="3.1"/><circle cx="817.70" cy="485.54" r="3.1"/><circle cx="821.57" cy="487.01" r="3.1"/><circle cx="824.38" cy="488.47" r="3.1"/><circle cx="826.08" cy="489.94" r="3.1"/><circle cx="826.62" cy="491.40" r="3.1"/></g>
<rect x="164.70" y="107.70" width="450.50" height="401.90" fill="none" stroke="#000" stroke-width="3.33" stroke-linejoin="miter"/>
<rect x="656.10" y="107.70" width="204.80" height="401.90" fill="none" stroke="#000" stroke-width="3.33" stroke-linejoin="miter"/>
<rect x="164.70" y="546.40" width="450.50" height="182.50" fill="none" stroke="#000" stroke-width="3.33" stroke-linejoin="miter"/>
<path d="M185.05,107.70v-15.9M185.05,728.90v15.9M389.93,107.70v-15.9M389.93,728.90v15.9M594.80,107.70v-15.9M594.80,728.90v15.9M164.70,491.40h-15.9M860.90,491.40h15.9M164.70,418.32h-15.9M860.90,418.32h15.9M164.70,345.24h-15.9M860.90,345.24h15.9M164.70,272.16h-15.9M860.90,272.16h15.9M164.70,199.08h-15.9M860.90,199.08h15.9M164.70,126.00h-15.9M860.90,126.00h15.9M164.70,663.80h-15.9M729.50,509.60v15.9M164.70,568.80h-15.9M836.00,509.60v15.9" stroke="#000" stroke-width="3.33" fill="none"/>
<g font-family="Liberation Serif, serif" font-size="38.3" fill="#000"><text transform="translate(285.55,27.00) scale(1.1090,1)">Time</text><text transform="translate(387.49,27.00) scale(1.0495,1)">(A.U.)</text><text transform="translate(285.55,834.00) scale(1.1090,1)">Time</text><text transform="translate(387.49,834.00) scale(1.0495,1)">(A.U.)</text><text transform="translate(160.09,69.50) scale(1.0511,1)">0.0</text><text transform="translate(160.09,785.10) scale(1.0511,1)">0.0</text><text transform="translate(364.71,69.50) scale(1.0355,1)">0.5</text><text transform="translate(364.71,785.10) scale(1.0355,1)">0.5</text><text transform="translate(569.70,69.88) scale(1.0444,1)">1.0</text><text transform="translate(569.70,785.48) scale(1.0444,1)">1.0</text><text transform="translate(113.83,504.09) scale(1.0370,1)">0</text><text transform="translate(892.31,504.09) scale(1.0370,1)">0</text><text transform="translate(74.11,431.01) scale(1.0370,1)">200</text><text transform="translate(892.31,431.01) scale(1.0370,1)">200</text><text transform="translate(74.11,357.94) scale(1.0370,1)">400</text><text transform="translate(893.11,357.94) scale(1.0370,1)">400</text><text transform="translate(74.11,284.85) scale(1.0370,1)">600</text><text transform="translate(892.31,284.85) scale(1.0370,1)">600</text><text transform="translate(74.11,211.77) scale(1.0370,1)">800</text><text transform="translate(892.31,211.77) scale(1.0370,1)">800</text><text transform="translate(54.25,139.08) scale(1.0370,1)">1000</text><text transform="translate(891.73,139.08) scale(1.0370,1)">1000</text><text transform="translate(113.33,676.49) scale(1.0370,1)">0</text><text transform="translate(73.61,581.88) scale(1.0370,1)">100</text><text transform="translate(719.87,566.50) scale(1.0370,1)">0</text><text transform="translate(805.52,566.88) scale(1.0370,1)">100</text><text transform="translate(626.72,614.70) scale(1.0288,1)">Difference</text><text transform="translate(808.87,614.70) scale(1.0640,1)">(pm)</text><text transform="translate(27.10,468.92) rotate(-90) scale(1.0587,1)">Displacement</text><text transform="translate(27.10,229.34) rotate(-90) scale(1.0697,1)">(nm)</text><text transform="translate(1016.00,468.92) rotate(-90) scale(1.0587,1)">Displacement</text><text transform="translate(1016.00,229.34) rotate(-90) scale(1.0697,1)">(nm)</text><text transform="translate(26.90,768.88) rotate(-90) scale(1.0288,1)">Difference</text><text transform="translate(26.90,586.73) rotate(-90) scale(1.0640,1)">(pm)</text></g>
</svg>
</body></html>
